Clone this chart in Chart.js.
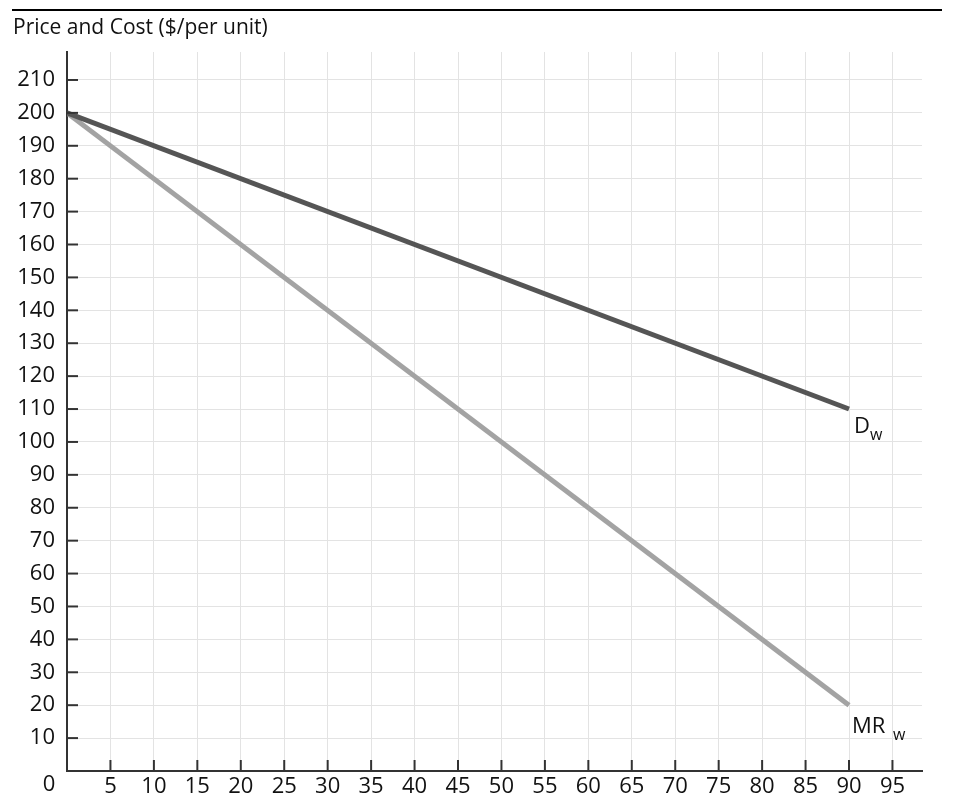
<!DOCTYPE html>
<html>
<head>
<meta charset="utf-8">
<script src="https://cdn.jsdelivr.net/npm/chart.js@4"></script>
<style>
  body { margin: 0; background: #fff; }
  #wrap { width: 980px; height: 810px; }
</style>
</head>
<body>
<div id="wrap"><canvas id="c"></canvas></div>
<script>
const quantity = [0, 90];
const demand = [200, 110];
const marginalRevenue = [200, 20];
const xTicks = [5, 10, 15, 20, 25, 30, 35, 40, 45, 50, 55, 60, 65, 70, 75, 80, 85, 90, 95];
const yTicks = [10, 20, 30, 40, 50, 60, 70, 80, 90, 100, 110, 120, 130, 140, 150, 160, 170, 180, 190, 200, 210];

const FONT = "'Open Sans', sans-serif";

const extras = {
  id: "extras",
  afterDraw(chart) {
    const { ctx, scales: { x, y } } = chart;
    ctx.save();
    // top rule + title
    ctx.strokeStyle = "#000";
    ctx.lineWidth = 2;
    ctx.beginPath(); ctx.moveTo(12, 10); ctx.lineTo(942, 10); ctx.stroke();
    ctx.fillStyle = "#111";
    ctx.font = "21px " + FONT;
    ctx.textBaseline = "alphabetic";
    ctx.fillText("Price and Cost ($/per unit)", 13, 34);
    // inward tick marks
    ctx.lineWidth = 2;
    ctx.strokeStyle = "#333";
    xTicks.forEach(v => {
      const px = x.getPixelForValue(v);
      ctx.beginPath(); ctx.moveTo(px, y.bottom); ctx.lineTo(px, y.bottom - 11); ctx.stroke();
    });
    yTicks.forEach(v => {
      const py = y.getPixelForValue(v);
      ctx.beginPath(); ctx.moveTo(x.left, py); ctx.lineTo(x.left + 11, py); ctx.stroke();
    });
    // origin label
    ctx.font = "22px " + FONT;
    ctx.textAlign = "center";
    ctx.textBaseline = "middle";
    ctx.fillText("0", 49, y.bottom + 14);
    // series labels
    const ex = x.getPixelForValue(quantity[1]);
    ctx.textAlign = "left";
    ctx.fillText("D", ex + 5, y.getPixelForValue(demand[1]) + 18);
    ctx.fillText("MR", ex + 3, y.getPixelForValue(marginalRevenue[1]) + 22);
    ctx.font = "16px " + FONT;
    ctx.fillText("w", ex + 21, y.getPixelForValue(demand[1]) + 26);
    ctx.fillText("w", ex + 44, y.getPixelForValue(marginalRevenue[1]) + 30);
    ctx.restore();
  }
};

new Chart(document.getElementById("c"), {
  type: "line",
  data: {
    datasets: [
      {
        label: "Dw",
        data: quantity.map((q, i) => ({ x: q, y: demand[i] })),
        borderColor: "#555555",
        borderWidth: 5,
        pointRadius: 0
      },
      {
        label: "MRw",
        data: quantity.map((q, i) => ({ x: q, y: marginalRevenue[i] })),
        borderColor: "#a3a3a3",
        borderWidth: 5,
        pointRadius: 0
      }
    ]
  },
  options: {
    responsive: true,
    maintainAspectRatio: false,
    animation: false,
    layout: { padding: { top: 52, right: 58, left: 0, bottom: 0 } },
    plugins: { legend: { display: false }, tooltip: { enabled: false } },
    scales: {
      x: {
        type: "linear",
        min: 0,
        max: 98.4,
        afterBuildTicks(s) { s.ticks = xTicks.map(v => ({ value: v })); },
        afterFit(s) { s.height = 39; },
        border: { color: "#333", width: 2 },
        grid: { color: "#e3e3e3", drawTicks: false },
        ticks: {
          padding: 3,
          color: "#111",
          font: { family: FONT, size: 22 },
          maxRotation: 0,
          autoSkip: false
        }
      },
      y: {
        min: 0,
        max: 218.5,
        afterBuildTicks(s) { s.ticks = yTicks.map(v => ({ value: v })); },
        afterFit(s) { s.width = 67; },
        border: { color: "#333", width: 2 },
        grid: { color: "#e3e3e3", drawTicks: false },
        ticks: {
          padding: 12,
          color: "#111",
          font: { family: FONT, size: 22 },
          autoSkip: false
        }
      }
    }
  },
  plugins: [extras]
});
</script>
</body>
</html>
